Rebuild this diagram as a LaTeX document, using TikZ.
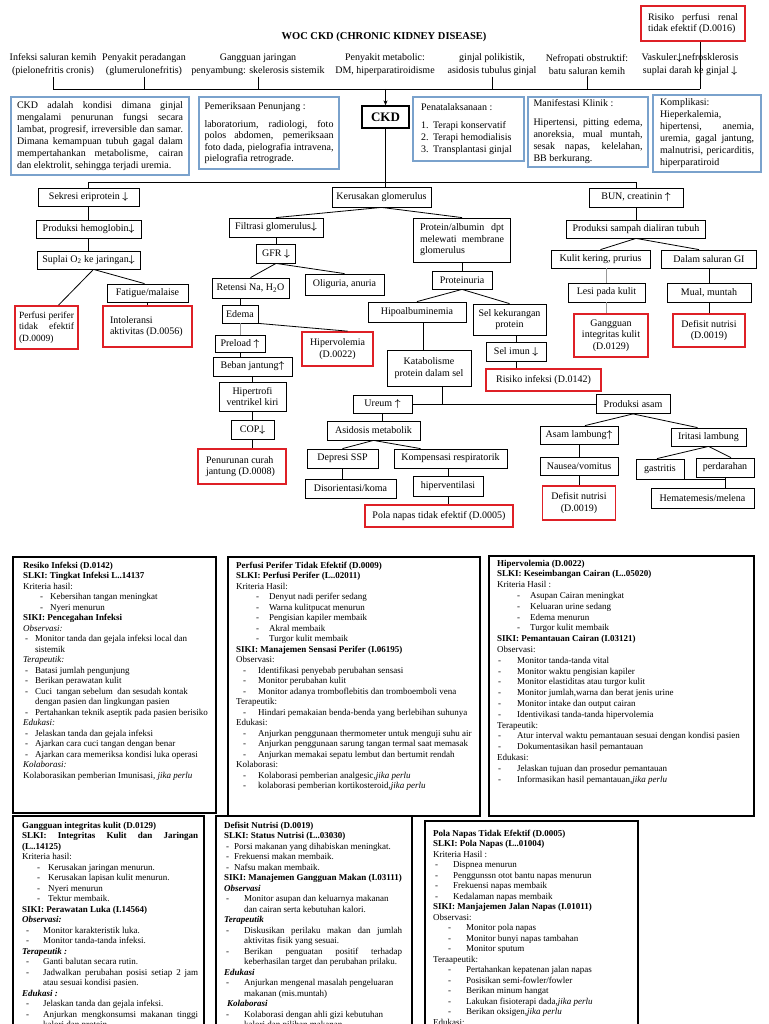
\documentclass[tikz,border=0pt]{standalone}
\usepackage{fontspec}
\setmainfont{Liberation Serif}
\usepackage{amsmath}
\usetikzlibrary{arrows.meta}
\definecolor{redline}{RGB}{222,32,38}
\definecolor{blueline}{RGB}{122,162,204}
\newcommand{\turun}{$\boldsymbol{\downarrow}$}
\newcommand{\naik}{$\boldsymbol{\uparrow}$}
\newcommand{\jl}[1]{\makebox[\hsize][s]{\spaceskip=.25em plus 1fil\xspaceskip=\spaceskip #1}\\}
\newcommand{\jw}[2]{\makebox[#1pt][s]{\spaceskip=.25em plus 1fil\xspaceskip=\spaceskip #2}}
\newcommand{\itm}[3]{\hspace*{#1pt}\makebox[#2pt][l]{-}#3}

\begin{document}
\begin{tikzpicture}[x=1pt,y=-1pt,
    box/.style={draw, line width=0.8pt, inner sep=1pt, align=center, font=\fontsize{10}{11.5}\selectfont,
      execute at begin node={\spaceskip=0pt\xspaceskip=0pt\relax}},
    redbox/.style={box, draw=redline, line width=1.7pt},
    bluebox/.style={draw=blueline, line width=1.1pt, inner sep=0pt, align=left, font=\fontsize{10}{12}\selectfont,
      execute at begin node={\spaceskip=0pt\xspaceskip=0pt\relax}},
    cause/.style={inner sep=1pt, align=center, font=\fontsize{10}{13}\selectfont},
    conn/.style={line width=0.8pt},
    greyconn/.style={conn, draw=black!40},
    notebox/.style={line width=2.2pt},
    notetext/.style={anchor=north west, inner sep=0pt, align=left, font=\fontsize{9}{10.5}\selectfont,
      execute at begin node={\spaceskip=0pt\xspaceskip=0pt\relax}}]
\useasboundingbox (0,0) rectangle (768,1024);

% title and causes
\node[font=\bfseries\fontsize{10.5}{12}\selectfont, inner sep=0pt] (title) at (384,37) {WOC CKD (CHRONIC KIDNEY DISEASE)};
\node[redbox, align=left, text width=90, minimum width=104, minimum height=35] (risren) at (693,23.5) {\jl{Risiko perfusi renal}tidak efektif (D.0016)};
\node[cause] (c1) at (53,64.5) {Infeksi saluran kemih\\(pielonefritis cronis)};
\node[cause] (c2) at (144,64.5) {Penyakit peradangan\\(glumerulonefritis)};
\node[cause] (c3) at (258,64.5) {Gangguan jaringan\\penyambung: skelerosis sistemik};
\node[cause] (c4) at (385,64.5) {Penyakit metabolic:\\DM, hiperparatiroidisme};
\node[cause] (c5) at (492,64.5) {ginjal polikistik,\\asidosis tubulus ginjal};
\node[cause] (c6) at (587,64.5) {Nefropati obstruktif:\\batu saluran kemih};
\node[cause] (c7) at (690,64.5) {Vaskuler\turun nefrosklerosis\\suplai darah ke ginjal \turun};
\coordinate (busL) at (53,89);
\coordinate (busM) at (385.5,89);
\coordinate (busR) at (700,89);
\draw[conn] (busL) -- (busR);
\foreach \c in {c1,c2,c3,c5,c6}
  \draw[conn] (\c.south) -- (\c.south |- busL);
\draw[conn] (busR) -- (busR |- risren.south);

% info boxes
\node[bluebox, minimum width=178, minimum height=78, text width=166] (def) at (100,136) {%
  \jl{CKD adalah kondisi dimana ginjal}
  \jl{mengalami penurunan fungsi secara}
  \jl{lambat, progresif, irreversible dan samar.}
  \jl{Dimana kemampuan tubuh gagal dalam}
  \jl{mempertahankan metabolisme, cairan}
  dan elektrolit, sehingga terjadi uremia.};
\node[bluebox, minimum width=140, minimum height=72, text width=129, font=\fontsize{10}{11.3}\selectfont] (penunjang) at (269,133) {%
  Pemeriksaan Penunjang :\\[7pt]
  \jl{laboratorium, radiologi, foto}
  \jl{polos abdomen, pemeriksaan}
  \jl{foto dada, pielografia intravena,}
  pielografia retrograde.};
\node[box, line width=1.3pt, font=\bfseries\fontsize{13}{15}\selectfont, minimum width=47, minimum height=22] (ckd) at (385.5,117) {CKD};
\draw[conn, -{Stealth[length=5pt,width=4pt]}] (busM) -- (ckd.north);
\node[bluebox, minimum width=111, minimum height=64, text width=95] (penata) at (468.5,129) {%
  Penatalaksanaan :\\[6pt]
  \makebox[12pt][l]{1.}Terapi konservatif\\
  \makebox[12pt][l]{2.}Terapi hemodialisis\\
  \makebox[12pt][l]{3.}Transplantasi ginjal};
\node[bluebox, minimum width=120, minimum height=70, text width=109] (manif) at (588,132) {%
  Manifestasi Klinik :\\[7pt]
  \jl{Hipertensi, pitting edema,}
  \jl{anoreksia, mual muntah,}
  \jl{sesak napas, kelelahan,}
  BB berkurang.};
\node[bluebox, minimum width=108, minimum height=77, text width=94] (kompl) at (707,133.5) {%
  Komplikasi:\\
  Hieperkalemia,\\
  \jl{hipertensi, anemia,}
  \jl{uremia, gagal jantung,}
  \jl{malnutrisi, pericarditis,}
  hiperparatiroid};

% left branch
\node[box, minimum width=101, minimum height=18] (sekresi) at (88.5,197) {Sekresi eriprotein \turun};
\node[box, minimum width=105, minimum height=18] (hb) at (88.5,229) {Produksi hemoglobin\turun};
\node[box, minimum width=103, minimum height=18] (suplai) at (88.5,260) {Suplai O\textsubscript{2} ke jaringan\turun};
\node[box, minimum width=81, minimum height=18] (fatigue) at (147.5,293) {Fatigue/malaise};
\node[redbox, align=left, text width=55, minimum width=63, minimum height=43, font=\fontsize{9.5}{11.5}\selectfont] (perfusi) at (46.5,327.5) {\jl{Perfusi perifer}\jl{tidak efektif}(D.0009)};
\node[redbox, align=left, text width=75, minimum width=89, minimum height=41] (intol) at (147.5,326.5) {Intoleransi\\aktivitas (D.0056)};

% middle branch
\node[box, minimum width=99, minimum height=20] (kerusakan) at (381.5,197) {Kerusakan glomerulus};
\node[box, minimum width=94, minimum height=19] (filtrasi) at (276,227.5) {Filtrasi glomerulus\turun};
\node[box, align=left, text width=84, minimum width=97, minimum height=44] (protein) at (462,240) {\jl{Protein/albumin dpt}\jl{melewati membrane}glomerulus};
\node[box, minimum width=39, minimum height=19] (gfr) at (276,253.5) {GFR \turun};
\node[box, minimum width=77, minimum height=20] (retensi) at (250.5,288) {Retensi Na, H\textsubscript{2}O};
\node[box, minimum width=79, minimum height=21] (oliguria) at (344.5,284.5) {Oliguria, anuria};
\node[box, minimum width=36, minimum height=18] (edema) at (240,314) {Edema};
\node[box, minimum width=50, minimum height=17] (preload) at (240,343.5) {Preload \naik};
\node[redbox, minimum width=71, minimum height=34] (hiperv) at (337.5,349) {Hipervolemia\\(D.0022)};
\node[box, minimum width=79, minimum height=19] (beban) at (252.5,366.5) {Beban jantung\naik};
\node[box, minimum width=67, minimum height=29] (hipertrofi) at (252.5,396.5) {Hipertrofi\\ventrikel kiri};
\node[box, minimum width=43, minimum height=19] (cop) at (252.5,429.5) {COP\turun};
\node[redbox, align=left, text width=72, minimum width=88, minimum height=35] (curah) at (242,466.5) {Penurunan curah\\jantung (D.0008)};

\node[box, minimum width=60, minimum height=18] (proteinuria) at (462,280) {Proteinuria};
\node[box, minimum width=98, minimum height=20] (hipoalb) at (417,312) {Hipoalbuminemia};
\node[box, minimum width=73, minimum height=31] (selkurang) at (509.5,319.5) {Sel kekurangan\\protein};
\node[box, minimum width=60, minimum height=19] (selimun) at (516,351.5) {Sel imun \turun};
\node[redbox, minimum width=115, minimum height=22] (risinf) at (543.5,380) {Risiko infeksi (D.0142)};
\node[box, minimum width=84, minimum height=36] (katab) at (429,368) {Katabolisme\\protein dalam sel};
\node[box, minimum width=59, minimum height=18] (ureum) at (382.5,404) {Ureum \naik};
\node[box, minimum width=74, minimum height=19] (prodasam) at (633,404) {Produksi asam};
\node[box, minimum width=93, minimum height=19] (asidosis) at (373.5,430.5) {Asidosis metabolik};
\node[box, minimum width=71, minimum height=19] (depresi) at (342.5,458.5) {Depresi SSP};
\node[box, minimum width=113, minimum height=19] (kompensasi) at (450.5,458.5) {Kompensasi respiratorik};
\node[box, minimum width=91, minimum height=19] (disor) at (350.5,488.5) {Disorientasi/koma};
\node[box, minimum width=70, minimum height=20] (hiperven) at (448,486) {hiperventilasi};
\node[redbox, minimum width=148, minimum height=22] (polanapas) at (439,516) {Pola napas tidak efektif (D.0005)};

% right branch
\node[box, minimum width=94, minimum height=19] (bun) at (636,197.5) {BUN, creatinin \naik};
\node[box, minimum width=139, minimum height=18] (sampah) at (636,229) {Produksi sampah dialiran tubuh};
\node[box, minimum width=99, minimum height=18] (kulit) at (600.5,259) {Kulit kering, prurius};
\node[box, minimum width=95, minimum height=18] (dalam) at (709,259) {Dalam saluran GI};
\node[box, minimum width=77, minimum height=19] (lesi) at (606.5,292.5) {Lesi pada kulit};
\node[box, minimum width=84, minimum height=19] (mual) at (709,292.5) {Mual, muntah};
\node[redbox, minimum width=74, minimum height=43] (ggkulit) at (611,335.5) {Gangguan\\integritas kulit\\(D.0129)};
\node[redbox, minimum width=72, minimum height=33] (defnut1) at (709,330.5) {Defisit nutrisi\\(D.0019)};
\node[box, minimum width=78, minimum height=18] (asam) at (579,435) {Asam lambung\naik};
\node[box, minimum width=75, minimum height=18] (iritasi) at (708.5,437) {Iritasi lambung};
\node[box, minimum width=78, minimum height=18] (nausea) at (579,466) {Nausea/vomitus};
\node[redbox, minimum width=73, minimum height=34] (defnut2) at (579,503) {Defisit nutrisi\\(D.0019)};
\node[box, minimum width=48, minimum height=20] (gastritis) at (660,469) {gastritis};
\node[box, minimum width=58, minimum height=19] (perdarahan) at (725,467.5) {perdarahan};
\node[box, minimum width=103, minimum height=20] (hemat) at (702.5,498) {Hematemesis/melena};

% connectors
\draw[conn] (ckd.south) -- (ckd.south |- kerusakan.north);
\draw[conn] (sekresi.north) -- ++(0,-5) -| (bun.north);
\draw[conn] (sekresi) -- (hb);
\draw[conn] (hb) -- (suplai);
\draw[conn] ([xshift=5pt]suplai.south) -- ([xshift=12pt]perfusi.north);
\draw[conn] ([xshift=5pt]suplai.south) -- ([xshift=-3pt]fatigue.north);
\draw[conn] (fatigue) -- (intol);

\draw[conn] (kerusakan.south) -- (filtrasi.north);
\draw[conn] (kerusakan.south) -- (protein.north);
\draw[conn] (filtrasi) -- (gfr);
\draw[conn] (gfr.south) -- (retensi.north);
\draw[conn] (gfr.south) -- (oliguria.north);
\draw[conn] (edema.north) -- (edema.north |- retensi.south);
\draw[greyconn] (edema) -- (preload);
\draw[conn] (edema.south east) -- ([xshift=10pt]hiperv.north);
\draw[conn] (preload.south) -- (preload.south |- beban.north);
\draw[conn] (beban) -- (hipertrofi);
\draw[conn] (hipertrofi) -- (cop);
\draw[conn] (cop.south) -- (cop.south |- curah.north);

\draw[conn] (protein) -- (proteinuria);
\draw[conn] (proteinuria.south) -- (hipoalb.north);
\draw[conn] (proteinuria.south) -- (selkurang.north);
\draw[conn] ([xshift=6pt]hipoalb.south) -- ([xshift=6pt]hipoalb.south |- katab.north);
\draw[conn] (selimun.north) -- (selimun.north |- selkurang.south);
\draw[conn] (selimun.south) -- (selimun.south |- risinf.north);
\draw[conn] (ureum.east) -- (prodasam.west);
\draw[conn] ([xshift=13pt]katab.south) -- ([xshift=13pt]katab.south |- ureum.east);
\draw[conn] (ureum.south) -- (ureum.south |- asidosis.north);
\draw[conn] (asidosis.south) -- (depresi.north);
\draw[conn] (asidosis.south) -- ([xshift=-30pt]kompensasi.north);
\draw[conn] (depresi.south) -- (depresi.south |- disor.north);
\draw[conn] (hiperven.north) -- (hiperven.north |- kompensasi.south);
\draw[conn] (hiperven.south) -- (hiperven.south |- polanapas.north);

\draw[conn] (bun) -- (sampah);
\draw[conn] (sampah.south) -- (kulit.north);
\draw[conn] (sampah.south) -- ([xshift=-10pt]dalam.north);
\draw[greyconn] (lesi.north) -- (lesi.north |- kulit.south);
\draw[greyconn] (lesi.south) -- (lesi.south |- ggkulit.north);
\draw[conn] (dalam) -- (mual);
\draw[conn] (mual) -- (defnut1);
\draw[conn] (prodasam.south) -- ([xshift=6pt]asam.north);
\draw[conn] (prodasam.south) -- ([xshift=-11pt]iritasi.north);
\draw[conn] (asam) -- (nausea);
\draw[conn] (nausea) -- (defnut2);
\draw[conn] (iritasi.south) -- ([xshift=-3pt]gastritis.north);
\draw[conn] (iritasi.south) -- ([xshift=6pt]perdarahan.north);
\draw[conn] (gastritis.south east) -- (gastritis.south east -| perdarahan.south);
\draw[conn] (perdarahan.south) -- (perdarahan.south |- hemat.north);

% nursing plan boxes
\draw[notebox] (13,557) rectangle (216,813);
\draw[notebox] (228,557) rectangle (480,816);
\draw[notebox] (489,556) rectangle (754,816);
\draw[notebox] (13,816) rectangle (204,1030);
\draw[notebox] (216,816) rectangle (412,1030);
\draw[notebox] (425,821) rectangle (638,1030);

\node[notetext, text width=190] (tInf) at (23,561.7) {%
  \textbf{Resiko Infeksi (D.0142)}\\
  \textbf{SLKI: Tingkat Infeksi L..14137}\\
  Kriteria hasil:\\
  \itm{17}{10}{Kebersihan tangan meningkat}\\
  \itm{17}{10}{Nyeri menurun}\\
  \textbf{SIKI: Pencegahan Infeksi}\\
  \textit{Observasi:}\\
  \itm{2}{10}{Monitor tanda dan gejala infeksi local dan}\\
  \hspace*{12pt}sistemik\\
  \textit{Terapeutik:}\\
  \itm{2}{10}{Batasi jumlah pengunjung}\\
  \itm{2}{10}{Berikan perawatan kulit}\\
  \itm{2}{10}{Cuci\ \ tangan sebelum\ \ dan sesudah kontak}\\
  \hspace*{12pt}dengan pasien dan lingkungan pasien\\
  \itm{2}{10}{Pertahankan teknik aseptik pada pasien berisiko}\\
  \textit{Edukasi:}\\
  \itm{2}{10}{Jelaskan tanda dan gejala infeksi}\\
  \itm{2}{10}{Ajarkan cara cuci tangan dengan benar}\\
  \itm{2}{10}{Ajarkan cara memeriksa kondisi luka operasi}\\
  \textit{Kolaborasi:}\\
  Kolaborasikan pemberian Imunisasi, \textit{jika perlu}};

\node[notetext, text width=240] (tPer) at (236,561.7) {%
  \textbf{Perfusi Perifer Tidak Efektif (D.0009)}\\
  \textbf{SLKI: Perfusi Perifer (L..02011)}\\
  Kriteria Hasil:\\
  \itm{20}{13}{Denyut nadi perifer sedang}\\
  \itm{20}{13}{Warna kulitpucat menurun}\\
  \itm{20}{13}{Pengisian kapiler membaik}\\
  \itm{20}{13}{Akral membaik}\\
  \itm{20}{13}{Turgor kulit membaik}\\
  \textbf{SIKI: Manajemen Sensasi Perifer (I.06195)}\\
  Observasi:\\
  \itm{7}{15}{Identifikasi penyebab perubahan sensasi}\\
  \itm{7}{15}{Monitor perubahan kulit}\\
  \itm{7}{15}{Monitor adanya tromboflebitis dan tromboemboli vena}\\
  Terapeutik:\\
  \itm{7}{15}{Hindari pemakaian benda-benda yang berlebihan suhunya}\\
  Edukasi:\\
  \itm{7}{15}{Anjurkan penggunaan thermometer untuk menguji suhu air}\\
  \itm{7}{15}{Anjurkan penggunaan sarung tangan termal saat memasak}\\
  \itm{7}{15}{Anjurkan memakai sepatu lembut dan bertumit rendah}\\
  Kolaborasi:\\
  \itm{7}{15}{Kolaborasi pemberian analgesic,\textit{jika perlu}}\\
  \itm{7}{15}{kolaborasi pemberian kortikosteroid,\textit{jika perlu}}};

\node[notetext, text width=252, font=\fontsize{9}{10.8}\selectfont] (tHip) at (497,559.7) {%
  \textbf{Hipervolemia (D.0022)}\\
  \textbf{SLKI: Keseimbangan Cairan (L..05020)}\\
  Kriteria Hasil :\\
  \itm{20}{13}{Asupan Cairan meningkat}\\
  \itm{20}{13}{Keluaran urine sedang}\\
  \itm{20}{13}{Edema menurun}\\
  \itm{20}{13}{Turgor kulit membaik}\\
  \textbf{SIKI: Pemantauan Cairan (I.03121)}\\
  Observasi:\\
  \itm{1}{19}{Monitor tanda-tanda vital}\\
  \itm{1}{19}{Monitor waktu pengisian kapiler}\\
  \itm{1}{19}{Monitor elastiditas atau turgor kulit}\\
  \itm{1}{19}{Monitor jumlah,warna dan berat jenis urine}\\
  \itm{1}{19}{Monitor intake dan output cairan}\\
  \itm{1}{19}{Identivikasi tanda-tanda hipervolemia}\\
  Terapeutik:\\
  \itm{1}{19}{Atur interval waktu pemantauan sesuai dengan kondisi pasien}\\
  \itm{1}{19}{Dokumentasikan hasil pemantauan}\\
  Edukasi:\\
  \itm{1}{19}{Jelaskan tujuan dan prosedur pemantauan}\\
  \itm{1}{19}{Informasikan hasil pemantauan,\textit{jika perlu}}};

\node[notetext, text width=176] (tKul) at (22,821.7) {%
  \textbf{Gangguan integritas kulit (D.0129)}\\
  \jl{\textbf{SLKI: Integritas Kulit dan Jaringan}}
  \textbf{(L..14125)}\\
  Kriteria hasil:\\
  \itm{15}{11}{Kerusakan jaringan menurun.}\\
  \itm{15}{11}{Kerusakan lapisan kulit menurun.}\\
  \itm{15}{11}{Nyeri menurun}\\
  \itm{15}{11}{Tektur membaik.}\\
  \textbf{SIKI: Perawatan Luka (I.14564)}\\
  \textbf{\textit{Observasi:}}\\
  \itm{4}{17}{Monitor karakteristik luka.}\\
  \itm{4}{17}{Monitor tanda-tanda infeksi.}\\
  \textbf{\textit{Terapeutik :}}\\
  \itm{4}{17}{Ganti balutan secara rutin.}\\
  \itm{4}{17}{\jw{155}{Jadwalkan perubahan posisi setiap 2 jam}}\\
  \hspace*{21pt}atau sesuai kondisi pasien.\\
  \textbf{\textit{Edukasi :}}\\
  \itm{4}{17}{Jelaskan tanda dan gejala infeksi.}\\
  \itm{4}{17}{\jw{155}{Anjurkan mengkonsumsi makanan tinggi}}\\
  \hspace*{21pt}kalori dan protein.};

\node[notetext, text width=184] (tNut) at (224,821.7) {%
  \textbf{Defisit Nutrisi (D.0019)}\\
  \textbf{SLKI: Status Nutrisi (L..03030)}\\
  \itm{2}{8}{Porsi makanan yang dihabiskan meningkat.}\\
  \itm{2}{8}{Frekuensi makan membaik.}\\
  \itm{2}{8}{Nafsu makan membaik.}\\
  \textbf{SIKI: Manajemen Gangguan Makan (I.03111)}\\
  \textbf{\textit{Observasi}}\\
  \itm{2}{18}{Monitor asupan dan keluarnya makanan}\\
  \hspace*{20pt}dan cairan serta kebutuhan kalori.\\
  \textbf{\textit{Terapeutik}}\\
  \itm{2}{18}{\jw{158}{Diskusikan perilaku makan dan jumlah}}\\
  \hspace*{20pt}aktivitas fisik yang sesuai.\\
  \itm{2}{18}{\jw{158}{Berikan penguatan positif terhadap}}\\
  \hspace*{20pt}keberhasilan target dan perubahan prilaku.\\
  \textbf{\textit{Edukasi}}\\
  \itm{2}{18}{Anjurkan mengenal masalah pengeluaran}\\
  \hspace*{20pt}makanan (mis.muntah)\\
  \hspace*{3pt}\textbf{\textit{Kolaborasi}}\\
  \itm{2}{18}{Kolaborasi dengan ahli gizi kebutuhan}\\
  \hspace*{20pt}kalori dan pilihan makanan};

\node[notetext, text width=200] (tNap) at (433,829.7) {%
  \textbf{Pola Napas Tidak Efektif (D.0005)}\\
  \textbf{SLKI: Pola Napas (L..01004)}\\
  Kriteria Hasil :\\
  \itm{2}{18}{Dispnea menurun}\\
  \itm{2}{18}{Penggunssn otot bantu napas menurun}\\
  \itm{2}{18}{Frekuensi napas membaik}\\
  \itm{2}{18}{Kedalaman napas membaik}\\
  \textbf{SIKI: Manjajemen Jalan Napas (I.01011)}\\
  Observasi:\\
  \itm{15}{18}{Monitor pola napas}\\
  \itm{15}{18}{Monitor bunyi napas tambahan}\\
  \itm{15}{18}{Monitor sputum}\\
  Teraapeutik:\\
  \itm{15}{18}{Pertahankan kepatenan jalan napas}\\
  \itm{15}{18}{Posisikan semi-fowler/fowler}\\
  \itm{15}{18}{Berikan minum hangat}\\
  \itm{15}{18}{Lakukan fisioterapi dada,\textit{jika perlu}}\\
  \itm{15}{18}{Berikan oksigen,\textit{jika perlu}}\\
  Edukasi:};
\end{tikzpicture}
\end{document}
